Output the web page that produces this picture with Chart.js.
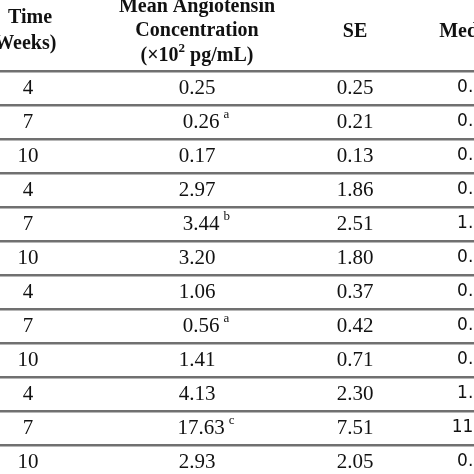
<!DOCTYPE html>
<html>
<head>
<meta charset="utf-8">
<script src="https://cdn.jsdelivr.net/npm/chart.js"></script>
<style>
  html, body { margin: 0; padding: 0; background: #fff; overflow: hidden; }
  #wrap { width: 474px; height: 474px; }
</style>
</head>
<body>
<div id="wrap"><canvas id="tableChart"></canvas></div>
<script>
const times = ['4', '7', '10', '4', '7', '10', '4', '7', '10', '4', '7', '10'];
const means = ['0.25', '0.26', '0.17', '2.97', '3.44', '3.20', '1.06', '0.56', '1.41', '4.13', '17.63', '2.93'];
const meanSup = ['', 'a', '', '', 'b', '', '', 'a', '', '', 'c', ''];
const se = ['0.25', '0.21', '0.13', '1.86', '2.51', '1.80', '0.37', '0.42', '0.71', '2.30', '7.51', '2.05'];
const median = ['0.00', '0.00', '0.00', '0.90', '1.00', '0.00', '0.30', '0.00', '0.70', '1.10', '11.00', '0.70'];
const columnX = [26, 197, 355, 472];

const serif = '"Liberation Serif", "DejaVu Serif", serif';

const tablePlugin = {
    id: 'tableText',
    afterDraw(chart) {
        const c = chart.ctx;
        const x = chart.scales.x, y = chart.scales.y;
        c.save();
        c.fillStyle = '#111';
        c.textAlign = 'center';
        c.textBaseline = 'middle';

        // header
        c.font = 'bold 20px ' + serif;
        c.fillText('Time', x.getPixelForValue(columnX[0] + 4), y.getPixelForValue(-2.05));
        c.fillText('(Weeks)', x.getPixelForValue(columnX[0] - 4), y.getPixelForValue(-1.3));
        c.fillText('Mean Angiotensin', x.getPixelForValue(columnX[1]), y.getPixelForValue(-2.38));
        c.fillText('Concentration', x.getPixelForValue(columnX[1]), y.getPixelForValue(-1.68));
        c.fillText('SE', x.getPixelForValue(columnX[2]), y.getPixelForValue(-1.65));
        c.fillText('Median', x.getPixelForValue(columnX[3]), y.getPixelForValue(-1.65));
        // (×10² pg/mL)
        const unitY = y.getPixelForValue(-0.95);
        const partA = '(\u00d710', partB = ' pg/mL)';
        const wa = c.measureText(partA).width, wb = c.measureText(partB).width;
        c.font = 'bold 13px ' + serif;
        const ws = c.measureText('2').width;
        let sx = x.getPixelForValue(columnX[1]) - (wa + ws + wb) / 2;
        c.textAlign = 'left';
        c.font = 'bold 20px ' + serif;
        c.fillText(partA, sx, unitY);
        c.font = 'bold 13px ' + serif;
        c.fillText('2', sx + wa, unitY - 7);
        c.font = 'bold 20px ' + serif;
        c.fillText(partB, sx + wa + ws, unitY);

        // body
        for (let i = 0; i < times.length; i++) {
            const py = y.getPixelForValue(i);
            c.textAlign = 'center';
            c.font = '21px ' + serif;
            c.fillText(times[i], x.getPixelForValue(columnX[0] + 2), py);
            c.fillText(se[i], x.getPixelForValue(columnX[2]), py);
            if (meanSup[i]) {
                const w = c.measureText(means[i]).width;
                c.textAlign = 'left';
                const left = x.getPixelForValue(columnX[1]) - w / 2 + 4;
                c.fillText(means[i], left, py);
                c.font = '13px ' + serif;
                c.fillText(meanSup[i], left + w + 4, py - 7);
            } else {
                c.fillText(means[i], x.getPixelForValue(columnX[1]), py);
            }
            c.textAlign = 'center';
            c.font = '17px "DejaVu Sans", sans-serif';
            c.fillText(median[i], x.getPixelForValue(columnX[3] + 4), py);
        }
        c.restore();
    }
};

const rowLines = times.map((t, i) => i - 0.5);

new Chart(document.getElementById('tableChart'), {
    type: 'scatter',
    data: { datasets: [{ data: [], pointRadius: 0 }] },
    options: {
        responsive: true,
        maintainAspectRatio: false,
        animation: false,
        layout: { padding: 0 },
        plugins: { legend: { display: false }, tooltip: { enabled: false } },
        scales: {
            x: { type: 'linear', min: 0, max: 474, display: false },
            y: {
                type: 'linear', reverse: true, min: -2.588, max: 11.353,
                afterBuildTicks: axis => { axis.ticks = rowLines.map(v => ({ value: v })); },
                ticks: { display: false },
                border: { display: false },
                grid: { color: '#707070', lineWidth: 2.5, drawTicks: false }
            }
        }
    },
    plugins: [tablePlugin]
});
</script>
</body>
</html>
